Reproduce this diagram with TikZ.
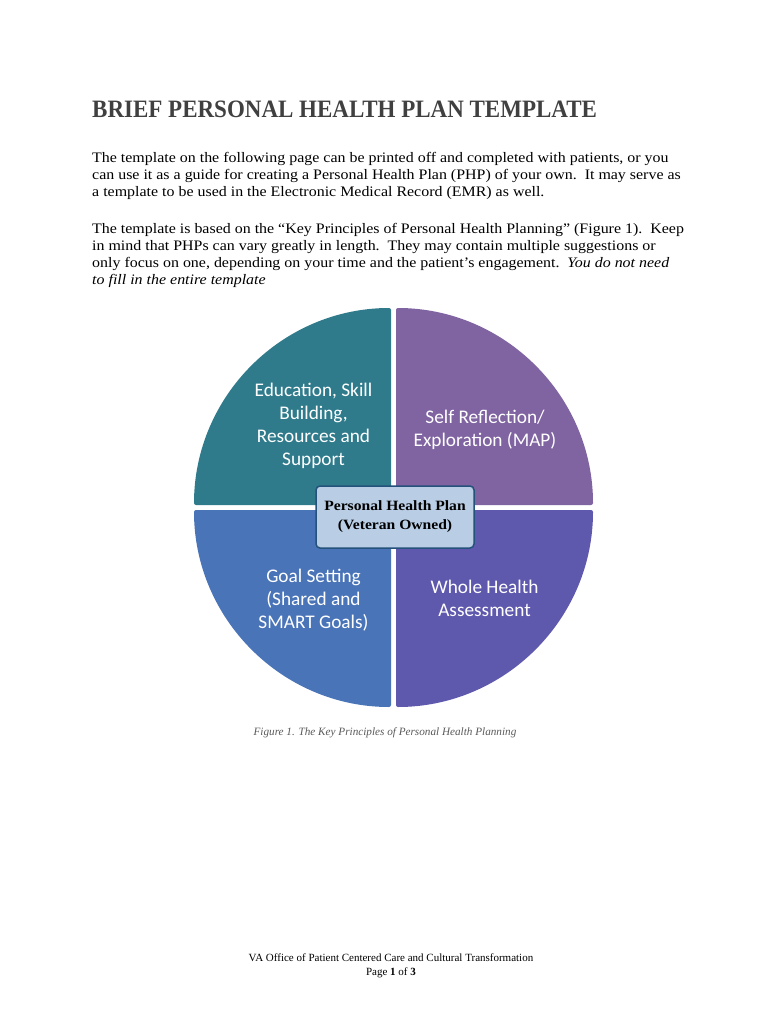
\documentclass[tikz,border=0pt]{standalone}
\usepackage{fontspec}
\setmainfont{Liberation Serif}
\newfontfamily\bodyfont{Liberation Serif}[FakeStretch=1.1,Ligatures=TeX]
\newfontfamily\headfont{Liberation Serif}[FakeStretch=0.92]
\newfontfamily\wheelfont{Carlito}
\usetikzlibrary{positioning}
\definecolor{titlegray}{HTML}{404040}
\definecolor{capgray}{HTML}{595959}
\definecolor{phpteal}{HTML}{2F7B8C}
\definecolor{phppurple}{HTML}{8063A1}
\definecolor{phpblue}{HTML}{4A74B8}
\definecolor{phpviolet}{HTML}{5F59AD}
\definecolor{hubfill}{HTML}{B9CDE5}
\definecolor{hubedge}{HTML}{24527A}

\begin{document}
\begin{tikzpicture}[x=1pt, y=-1pt,
    quad/.style={rounded corners=2pt},
    bodyline/.style={anchor=base west, inner sep=0pt, font=\bodyfont\fontsize{14.5}{17}\selectfont},
    wheeltext/.style={anchor=base, inner sep=0pt, align=center, text=white,
        font=\wheelfont\fontsize{19.3}{23}\selectfont},
    hub/.style={draw=hubedge, line width=1.5pt, fill=hubfill, rounded corners=4pt,
        minimum width=158pt, minimum height=62pt, align=center,
        font=\bodyfont\bfseries\fontsize{14.2}{19}\selectfont}]

    \useasboundingbox (0,0) rectangle (768,1024);

    % heading and text
    \node[anchor=base west, inner sep=0pt, text=titlegray,
        font=\headfont\bfseries\fontsize{25}{30}\selectfont] (title) at (92,118)
        {BRIEF PERSONAL HEALTH PLAN TEMPLATE};

    \node[bodyline] (p1) at (92,162.5) {The template on the following page can be printed off and completed with patients, or you};
    \node[bodyline] (p2) at (92,179.5) {can use it as a guide for creating a Personal Health Plan (PHP) of your own.\ \ It may serve as};
    \node[bodyline] (p3) at (92,196.5) {a template to be used in the Electronic Medical Record (EMR) as well.};

    \node[bodyline] (q1) at (92,233.5) {The template is based on the “Key Principles of Personal Health Planning” (Figure 1).\ \ Keep};
    \node[bodyline] (q2) at (92,250.5) {in mind that PHPs can vary greatly in length.\ \ They may contain multiple suggestions or};
    \node[bodyline] (q3) at (92,267.5) {only focus on one, depending on your time and the patient’s engagement.\ \ \textit{You do not need}};
    \node[bodyline] (q4) at (92,284.5) {\textit{to fill in the entire template}};

    % wheel of four quarters
    \foreach \cx/\cy/\sa/\col in {391/505/180/phpteal, 396/505/270/phppurple,
                                  396/510/0/phpviolet, 391/510/90/phpblue} {
        \fill[quad, \col] (\cx,\cy) -- ++(\sa:197) arc[start angle=\sa, delta angle=90, radius=197] -- cycle;
    }

    % labels sit on the baseline of their last line
    \node[wheeltext] (educ) at (313.5,465.5) {Education, Skill\\Building,\\Resources and\\Support};
    \node[wheeltext] (refl) at (485,446.5) {Self Reflection/\\Exploration (MAP)};
    \node[wheeltext] (goal) at (313.5,628) {Goal Setting\\(Shared and\\SMART Goals)};
    \node[wheeltext] (asmt) at (484.5,616.5) {Whole Health\\Assessment};

    \node[hub] (hub) at (395,517) {Personal Health Plan\\(Veteran Owned)};

    % caption and footer
    \node[anchor=base, inner sep=0pt, text=capgray, font=\itshape\fontsize{11.2}{13}\selectfont]
        (caption) at (385,735) {Figure 1. The Key Principles of Personal Health Planning};
    \node[anchor=base, inner sep=0pt, font=\fontsize{11}{14}\selectfont] (foot1) at (391,961)
        {VA Office of Patient Centered Care and Cultural Transformation};
    \node[anchor=base, inner sep=0pt, font=\fontsize{11}{14}\selectfont] (foot2) at (391,975)
        {Page \textbf{1} of \textbf{3}};
\end{tikzpicture}
\end{document}
